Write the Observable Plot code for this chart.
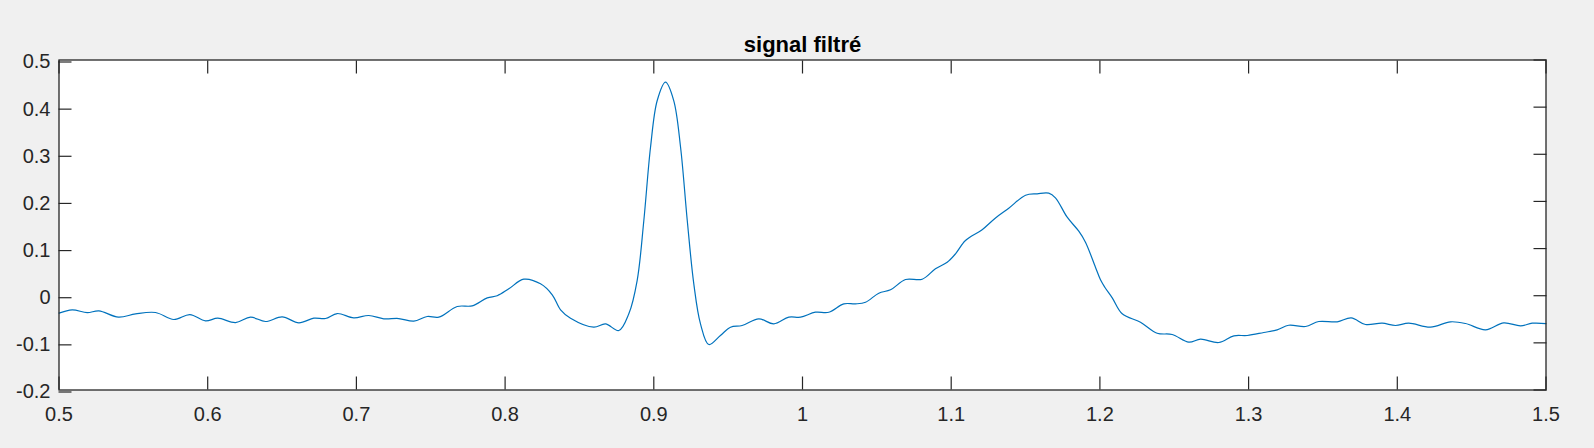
<!DOCTYPE html>
<html>
<head>
<meta charset="utf-8">
<script src="https://cdn.jsdelivr.net/npm/d3@7"></script>
<script src="https://cdn.jsdelivr.net/npm/@observablehq/plot@0.6"></script>
<style>
html, body { margin: 0; padding: 0; background: #f0f0f0; }
#chart svg { display: block; }
</style>
</head>
<body>
<div id="chart"></div>
<script>
const title = "signal filtré";

const time = [
  0.5000, 0.5089, 0.5190, 0.5268, 0.5400, 0.5515, 0.5649, 0.5772, 0.5880, 0.5985,
  0.6068, 0.6187, 0.6288, 0.6389, 0.6501, 0.6613, 0.6714, 0.6792, 0.6871, 0.6982,
  0.7083, 0.7184, 0.7285, 0.7386, 0.7476, 0.7554, 0.7678, 0.7779, 0.7880, 0.7947,
  0.8025, 0.8126, 0.8238, 0.8317, 0.8373, 0.8440, 0.8596, 0.8675, 0.8765, 0.8832,
  0.8888, 0.8933, 0.8978, 0.9023, 0.9079, 0.9134, 0.9180, 0.9225, 0.9269, 0.9314,
  0.9370, 0.9448, 0.9516, 0.9594, 0.9706, 0.9807, 0.9908, 0.9987, 1.0087, 1.0177,
  1.0278, 1.0356, 1.0424, 1.0513, 1.0592, 1.0693, 1.0805, 1.0894, 1.0973, 1.1029,
  1.1096, 1.1208, 1.1298, 1.1387, 1.1500, 1.1578, 1.1656, 1.1701, 1.1780, 1.1858,
  1.1903, 1.1970, 1.2004, 1.2033, 1.2083, 1.2150, 1.2273, 1.2385, 1.2486, 1.2598,
  1.2677, 1.2800, 1.2901, 1.2991, 1.3102, 1.3192, 1.3270, 1.3383, 1.3472, 1.3596,
  1.3690, 1.3786, 1.3898, 1.3988, 1.4077, 1.4223, 1.4358, 1.4459, 1.4593, 1.4716,
  1.4829, 1.4907, 1.5000
];

const signal = [
  -0.0370, -0.0300, -0.0360, -0.0320, -0.0455, -0.0385, -0.0356, -0.0505, -0.0400, -0.0533,
  -0.0477, -0.0569, -0.0455, -0.0547, -0.0448, -0.0575, -0.0477, -0.0484, -0.0378, -0.0470,
  -0.0420, -0.0490, -0.0484, -0.0540, -0.0441, -0.0455, -0.0229, -0.0215, -0.0045, 0.0000,
  0.0146, 0.0350, 0.0252, 0.0020, -0.0300, -0.0477, -0.0668, -0.0597, -0.0738, -0.0384,
  0.0322, 0.1595, 0.3150, 0.4140, 0.4530, 0.4140, 0.3150, 0.1595, 0.0252, -0.0597,
  -0.1035, -0.0844, -0.0668, -0.0632, -0.0490, -0.0597, -0.0455, -0.0455, -0.0350, -0.0350,
  -0.0173, -0.0173, -0.0138, 0.0054, 0.0125, 0.0344, 0.0350, 0.0570, 0.0711, 0.0889,
  0.1170, 0.1400, 0.1650, 0.1856, 0.2132, 0.2162, 0.2175, 0.2077, 0.1665, 0.1368,
  0.1135, 0.0605, 0.0337, 0.0180, -0.0045, -0.0384, -0.0562, -0.0795, -0.0823, -0.0986,
  -0.0922, -0.0993, -0.0851, -0.0844, -0.0780, -0.0724, -0.0626, -0.0653, -0.0547, -0.0554,
  -0.0470, -0.0611, -0.0583, -0.0632, -0.0583, -0.0668, -0.0554, -0.0590, -0.0724, -0.0575,
  -0.0639, -0.0583, -0.0590
];

const xTicks = [0.5, 0.6, 0.7, 0.8, 0.9, 1.0, 1.1, 1.2, 1.3, 1.4, 1.5];
const xTickLabels = ["0.5", "0.6", "0.7", "0.8", "0.9", "1", "1.1", "1.2", "1.3", "1.4", "1.5"];
const yTicks = [-0.2, -0.1, 0, 0.1, 0.2, 0.3, 0.4, 0.5];
const yTickLabels = ["-0.2", "-0.1", "0", "0.1", "0.2", "0.3", "0.4", "0.5"];

const data = time.map((t, i) => ({t, v: signal[i]}));
const fmtX = d => xTickLabels[xTicks.findIndex(x => Math.abs(x - d) < 1e-9)];
const fmtY = d => yTickLabels[yTicks.findIndex(y => Math.abs(y - d) < 1e-9)];
const axisColor = "#262626";
const font = "'Liberation Sans', Arial, Helvetica, sans-serif";

const chart = Plot.plot({
  width: 1594,
  height: 448,
  marginLeft: 58.5,
  marginRight: 48.5,
  marginTop: 59.5,
  marginBottom: 58.5,
  style: {background: "#f0f0f0", fontFamily: font, fontSize: "20px", color: axisColor},
  x: {domain: [0.5, 1.5]},
  y: {domain: [-0.2, 0.5]},
  marks: [
    Plot.frame({fill: "white", stroke: null}),
    Plot.line(data, {x: "t", y: "v", stroke: "#0072BD", strokeWidth: 1.2, curve: "catmull-rom"}),
    Plot.frame({stroke: axisColor, strokeWidth: 1.3}),
    Plot.axisX({ticks: xTicks, anchor: "bottom", tickSize: -13, tickPadding: 29.3, tickFormat: fmtX, stroke: axisColor, fill: axisColor, fontSize: 20, strokeWidth: 1.2, label: null}),
    Plot.axisX({ticks: xTicks, anchor: "top", tickSize: -13, tickFormat: () => "", stroke: axisColor, strokeWidth: 1.2, label: null}),
    Plot.axisY({ticks: yTicks, anchor: "left", tickSize: -13, tickPadding: 21.5, tickFormat: fmtY, stroke: axisColor, fill: axisColor, fontSize: 20, dy: 2, strokeWidth: 1.2, label: null}),
    Plot.axisY({ticks: yTicks, anchor: "right", tickSize: -13, tickFormat: () => "", stroke: axisColor, strokeWidth: 1.2, label: null}),
    Plot.text([title], {text: d => d, frameAnchor: "top", lineAnchor: "bottom", dy: -8.5, fontWeight: "bold", fontSize: 22, fill: "#000"})
  ]
});

document.getElementById("chart").appendChild(chart);
</script>
</body>
</html>
